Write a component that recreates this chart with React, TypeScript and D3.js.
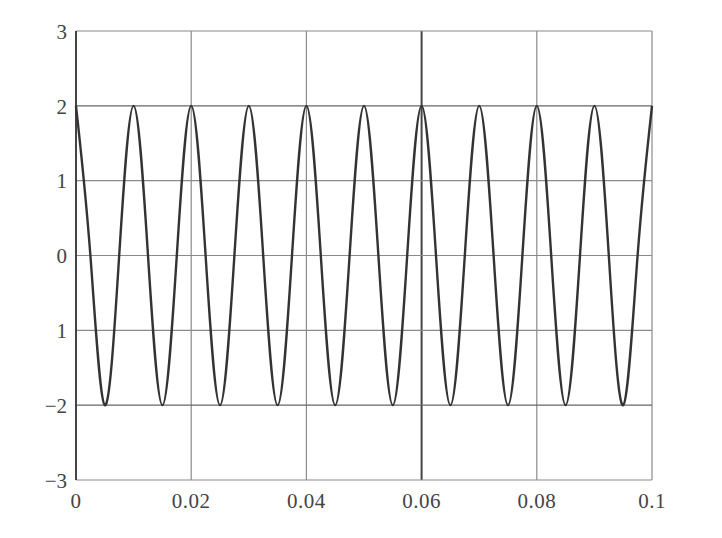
import { useEffect, useRef } from "react";
import * as d3 from "d3";

// samples at every quarter period (peaks, zero crossings, troughs)
const timeValues = [
  0, 0.0025, 0.005, 0.0075, 0.01, 0.0125, 0.015, 0.0175, 0.02, 0.0225,
  0.025, 0.0275, 0.03, 0.0325, 0.035, 0.0375, 0.04, 0.0425, 0.045, 0.0475,
  0.05, 0.0525, 0.055, 0.0575, 0.06, 0.0625, 0.065, 0.0675, 0.07, 0.0725,
  0.075, 0.0775, 0.08, 0.0825, 0.085, 0.0875, 0.09, 0.0925, 0.095, 0.0975, 0.1,
];
const signalValues = [
  2, 0, -2, 0, 2, 0, -2, 0, 2, 0,
  -2, 0, 2, 0, -2, 0, 2, 0, -2, 0,
  2, 0, -2, 0, 2, 0, -2, 0, 2, 0,
  -2, 0, 2, 0, -2, 0, 2, 0, -2, 0, 2,
];

const xTicks = [0, 0.02, 0.04, 0.06, 0.08, 0.1];
const xTickLabels = ["0", "0.02", "0.04", "0.06", "0.08", "0.1"];
const yTicks = [3, 2, 1, 0, -1, -2, -3];
const yTickLabels = ["3", "2", "1", "0", "1", "\u22122", "\u22123"];

export default function App() {
  const svgRef = useRef<SVGSVGElement>(null);

  useEffect(() => {
    const svgEl = svgRef.current;
    if (!svgEl) return;
    const width = 722;
    const height = 538;
    const margin = { top: 31, right: 70, bottom: 58, left: 76 };

    const svg = d3.select(svgEl);
    svg.selectAll("*").remove();

    const x = d3.scaleLinear().domain([0, 0.1]).range([margin.left, width - margin.right]);
    const y = d3.scaleLinear().domain([-3, 3]).range([height - margin.bottom, margin.top]);

    const grid = svg.append("g").attr("stroke", "#8a8a8a").attr("stroke-width", 1.2);
    grid
      .selectAll("line.v")
      .data(xTicks)
      .enter()
      .append("line")
      .attr("x1", (d) => x(d))
      .attr("x2", (d) => x(d))
      .attr("y1", y(3))
      .attr("y2", y(-3))
      .attr("stroke", (d) => (d === 0.06 ? "#444" : "#8a8a8a"))
      .attr("stroke-width", (d) => (d === 0.06 ? 2 : 1.2));
    grid
      .selectAll("line.h")
      .data(yTicks)
      .enter()
      .append("line")
      .attr("x1", x(0))
      .attr("x2", x(0.1))
      .attr("y1", (d) => y(d))
      .attr("y2", (d) => y(d))
      .attr("stroke", (d) => (Math.abs(d) === 2 ? "#666" : "#8a8a8a"));

    // left axis line is darker
    svg
      .append("line")
      .attr("x1", x(0))
      .attr("x2", x(0))
      .attr("y1", y(3))
      .attr("y2", y(-3))
      .attr("stroke", "#444")
      .attr("stroke-width", 2);

    const points = timeValues.map((t, i) => [t, signalValues[i]] as [number, number]);
    const line = d3
      .line<[number, number]>()
      .x((d) => x(d[0]))
      .y((d) => y(d[1]))
      .curve(d3.curveNatural);

    svg
      .append("path")
      .datum(points)
      .attr("fill", "none")
      .attr("stroke", "#333")
      .attr("stroke-width", 2.4)
      .attr("d", line);

    const font = "'Liberation Serif', 'DejaVu Serif', serif";
    svg
      .append("g")
      .selectAll("text")
      .data(yTicks)
      .enter()
      .append("text")
      .attr("x", margin.left - 9)
      .attr("y", (d) => y(d) + 3)
      .attr("text-anchor", "end")
      .attr("dominant-baseline", "middle")
      .attr("font-family", font)
      .attr("font-size", 21)
      .attr("fill", "#444")
      .text((_, i) => yTickLabels[i]);

    svg
      .append("g")
      .selectAll("text")
      .data(xTicks)
      .enter()
      .append("text")
      .attr("x", (d) => x(d))
      .attr("y", y(-3) + 23)
      .attr("text-anchor", "middle")
      .attr("dominant-baseline", "middle")
      .attr("font-family", font)
      .attr("font-size", 21)
      .attr("letter-spacing", 0.5)
      .attr("fill", "#444")
      .text((_, i) => xTickLabels[i]);
  }, []);

  return (
    <svg
      ref={svgRef}
      width={722}
      height={538}
      style={{ display: "block", position: "absolute", left: 0, top: 0, background: "#fff" }}
    />
  );
}
